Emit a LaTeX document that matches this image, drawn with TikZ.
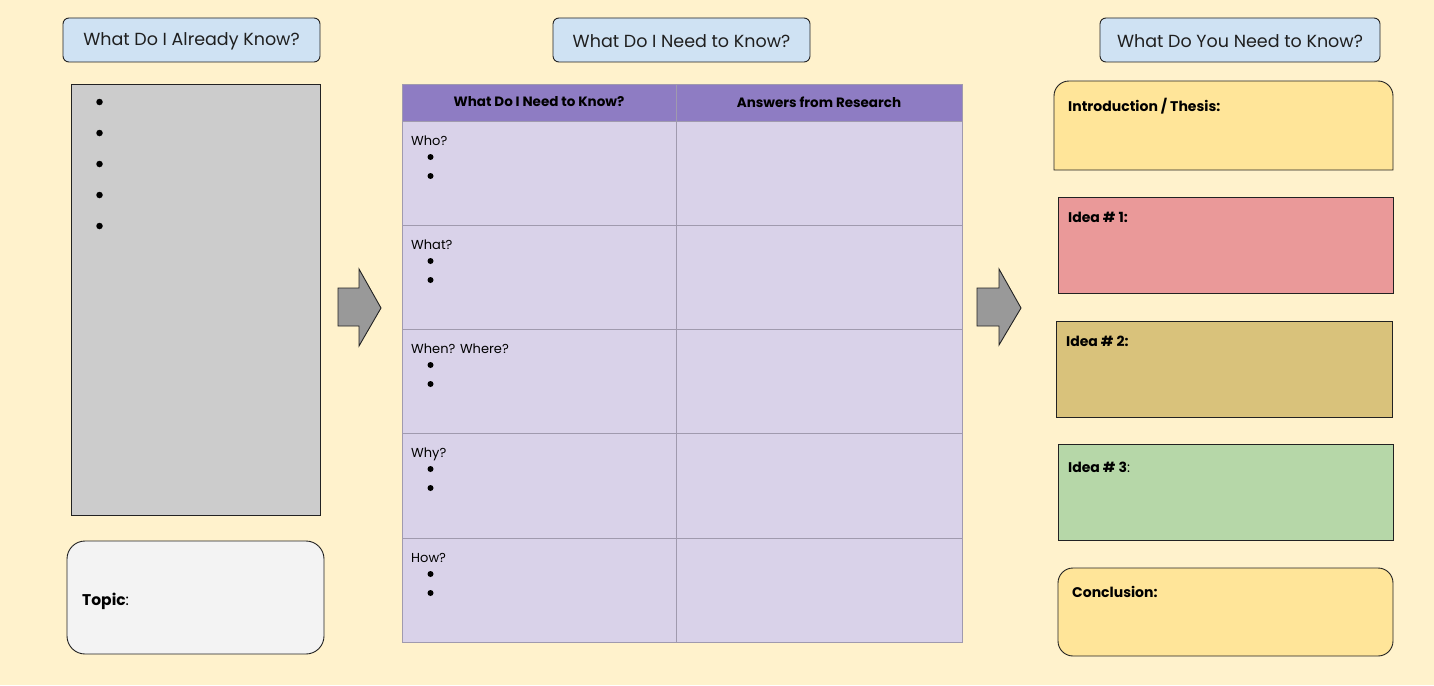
\documentclass[tikz,border=0pt]{standalone}
\usepackage{fontspec}
\setmainfont{Poppins}
\definecolor{bg}{HTML}{FFF2CC}
\definecolor{hdr}{HTML}{CFE2F3}
\definecolor{grayb}{HTML}{CCCCCC}
\definecolor{topicb}{HTML}{F3F3F3}
\definecolor{arrowg}{HTML}{999999}
\definecolor{thead}{HTML}{8E7CC3}
\definecolor{tcell}{HTML}{D9D2E9}
\definecolor{tgrid}{HTML}{A09AAE}
\definecolor{yel}{HTML}{FFE599}
\definecolor{redb}{HTML}{EA9999}
\definecolor{goldb}{HTML}{D9C27B}
\definecolor{greenb}{HTML}{B6D7A8}
\definecolor{edge}{HTML}{222222}
\begin{document}
\begin{tikzpicture}[x=1pt,y=-1pt,
  hdrbox/.style={draw=edge,line width=0.9pt,fill=hdr,rounded corners=6pt},
  hdrtext/.style={font=\fontsize{17.5}{20}\selectfont,text=black!88,inner sep=0pt},
  box/.style={draw=edge,line width=0.9pt},
  lbl/.style={font=\fontsize{14}{16}\selectfont\bfseries,inner sep=0pt,anchor=base west},
  cell/.style={font=\fontsize{13}{15}\selectfont,inner sep=0pt,anchor=base west},
  thtext/.style={font=\fontsize{13.5}{16}\selectfont\bfseries,inner sep=0pt},
  bul/.style={circle,fill=black,inner sep=0pt,minimum size=6.5pt},
  arrowshape/.style={draw=edge,line width=0.9pt,fill=arrowg}
]
\fill[bg] (0,0) rectangle (1434,685);
\useasboundingbox (0,0) rectangle (1434,685);

% headers
\draw[hdrbox] (63,18) rectangle (320,62);
\node[hdrtext] (h1) at (191.5,41) {What Do I Already Know?};
\draw[hdrbox] (553,18) rectangle (810,62);
\node[hdrtext] (h2) at (681.5,41) {What Do I Need to Know?};
\draw[hdrbox] (1100,18) rectangle (1380,62);
\node[hdrtext] (h3) at (1240,41) {What Do You Need to Know?};

% left gray box
\draw[box,fill=grayb] (71,84) rectangle (320,515);
\foreach \i/\y in {1/102,2/133,3/164,4/195,5/226}
  \node[bul] (lb\i) at (99.5,\y) {};

% topic
\draw[box,fill=topicb,rounded corners=18pt] (67,541) rectangle (324,654);
\node[lbl,font=\fontsize{15.5}{18}\selectfont] (topic) at (82,605) {\textbf{Topic}:};

% arrows
\draw[arrowshape] (338,288) -- (359,288) -- (359,269) -- (381,308) -- (359,346) -- (359,326) -- (338,326) -- cycle;
\draw[arrowshape] (977,288) -- (999,288) -- (999,269) -- (1021,308) -- (999,345) -- (999,326) -- (977,326) -- cycle;

% table
\fill[thead] (402,84) rectangle (962,121);
\fill[tcell] (402,121) rectangle (962,642);
\draw[tgrid,line width=0.6pt] (402,84) rectangle (962,642);
\draw[tgrid,line width=0.6pt] (676,84) -- (676,642);
\foreach \y in {121,225,329,433,538}
  \draw[tgrid,line width=0.6pt] (402,\y) -- (962,\y);
\node[thtext] (th1) at (539,102) {What Do I Need to Know?};
\node[thtext] (th2) at (819,102) {Answers from Research};
\foreach \n/\t/\y in {r1/Who?/121,r2/What?/225,r3/When? Where?/329,r4/Why?/433,r5/How?/538}{
  \node[cell] (\n) at (411,\y+24) {\t};
  \node[bul,minimum size=6pt] (\n a) at (430.5,\y+36) {};
  \node[bul,minimum size=6pt] (\n b) at (430.5,\y+55) {};
}

% right column
\draw[box,fill=yel] (1054,170) [rounded corners=15pt] -- (1054,81) -- (1393,81) [sharp corners] -- (1393,170) -- cycle;
\node[lbl] (intro) at (1068,111) {Introduction / Thesis:};
\draw[box,fill=redb] (1058,197) rectangle (1393,293);
\node[lbl] (idea1) at (1068,222) {Idea \# 1:};
\draw[box,fill=goldb] (1056,321) rectangle (1392,417);
\node[lbl] (idea2) at (1066,346) {Idea \# 2:};
\draw[box,fill=greenb] (1058,444) rectangle (1393,540);
\node[lbl] (idea3) at (1068,472) {Idea \# 3\textmd{:}};
\draw[box,fill=yel,rounded corners=15pt] (1058,568) rectangle (1393,656);
\node[lbl] (concl) at (1072,597) {Conclusion:};
\end{tikzpicture}
\end{document}
